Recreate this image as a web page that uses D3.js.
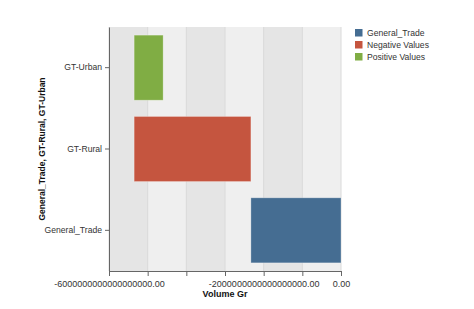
<!DOCTYPE html>
<html>
<head>
<meta charset="utf-8">
<script src="https://cdn.jsdelivr.net/npm/d3@7"></script>
<style>
  body { margin: 0; background: #fff; }
  text { font-family: "Liberation Sans", Arial, sans-serif; }
</style>
</head>
<body>
<div id="chart"></div>
<script>
// Waterfall data (top to bottom)
const categories = ["GT-Urban", "GT-Rural", "General_Trade"];
const seriesNames = ["General_Trade", "Negative Values", "Positive Values"];
const seriesColors = ["#456d92", "#c5553f", "#80ad44"];
// each step: start and end on the value axis
const stepStart = [-5.35e18, -2.33e18, 0];
const stepEnd = [-4.6e18, -5.35e18, -2.33e18];
const stepSeries = ["Positive Values", "Negative Values", "General_Trade"];
const xTickValues = [-6e18, -5e18, -4e18, -3e18, -2e18, -1e18, 0];
const xTickLabels = [-6e18, -2e18, 0];

const margin = { top: 27, right: 133, bottom: 38, left: 109 };
const width = 474 - margin.left - margin.right;
const height = 309 - margin.top - margin.bottom;

const svg = d3.select("#chart")
  .append("svg")
    .attr("width", 474)
    .attr("height", 309)
  .append("g")
    .attr("transform", `translate(${margin.left},${margin.top})`);

const x = d3.scaleLinear().domain([-6e18, 0]).range([0, width]);
const y = d3.scaleBand().domain(categories).range([0, height])
  .paddingInner(0.2).paddingOuter(0.1);
const color = d3.scaleOrdinal().domain(seriesNames).range(seriesColors);

// background bands between ticks
svg.append("rect")
  .attr("width", width)
  .attr("height", height)
  .style("fill", "#efefef");

svg.selectAll(".band")
  .data(d3.pairs(xTickValues).filter((d, i) => i % 2 === 0))
  .enter().append("rect")
    .attr("class", "band")
    .attr("x", d => x(d[0]))
    .attr("width", d => x(d[1]) - x(d[0]))
    .attr("height", height)
    .style("fill", "#e5e5e5");

svg.selectAll(".grid")
  .data(xTickValues)
  .enter().append("line")
    .attr("class", "grid")
    .attr("x1", d => x(d)).attr("x2", d => x(d))
    .attr("y1", 0).attr("y2", height)
    .style("stroke", "#dadada");

// bars
const bars = categories.map((c, i) => ({ cat: c, start: stepStart[i], end: stepEnd[i], series: stepSeries[i] }));
svg.selectAll(".bar")
  .data(bars)
  .enter().append("rect")
    .attr("class", "bar")
    .attr("x", d => x(Math.min(d.start, d.end)))
    .attr("y", d => y(d.cat))
    .attr("width", d => Math.abs(x(d.end) - x(d.start)))
    .attr("height", y.bandwidth())
    .style("fill", d => color(d.series))
    .style("stroke", "#ffffff")
    .style("stroke-opacity", 0.35)
    .style("stroke-width", 0.8);

// x axis
const xAxis = svg.append("g")
  .attr("transform", `translate(0,${height})`)
  .call(d3.axisBottom(x)
    .tickValues(xTickValues)
    .tickSize(5)
    .tickSizeOuter(0)
    .tickFormat(d => xTickLabels.includes(d) ? d.toFixed(2) : ""));

// y axis
const yAxis = svg.append("g")
  .call(d3.axisLeft(y).tickSize(4).tickSizeOuter(0));

[xAxis, yAxis].forEach(a => {
  a.select(".domain").style("stroke", "#666");
  a.selectAll(".tick line").style("stroke", "#666");
  a.selectAll("text")
    .style("font-size", "8.6px")
    .style("fill", "#333")
    .style("font-family", "'Liberation Sans', Arial, sans-serif");
});
xAxis.selectAll("text").style("font-size", "9px").attr("dy", "0.9em");

// axis titles
svg.append("text")
  .attr("x", width / 2)
  .attr("y", height + 26)
  .attr("text-anchor", "middle")
  .style("font-size", "9px")
  .style("font-weight", "bold")
  .style("fill", "#111")
  .text("Volume Gr");

svg.append("text")
  .attr("transform", `translate(${-64},${height / 2}) rotate(-90)`)
  .attr("text-anchor", "middle")
  .style("font-size", "8.5px")
  .style("font-weight", "bold")
  .style("fill", "#111")
  .text("General_Trade, GT-Rural, GT-Urban");

// legend
const legend = svg.append("g")
  .attr("transform", `translate(${width + 14}, 2)`);

const items = legend.selectAll("g")
  .data(seriesNames)
  .enter().append("g")
    .attr("transform", (d, i) => `translate(0, ${i * 12})`);

items.append("rect")
  .attr("width", 7.5)
  .attr("height", 7.5)
  .style("fill", d => color(d));

items.append("text")
  .attr("x", 12)
  .attr("y", 7)
  .style("font-size", "8.6px")
  .style("fill", "#333")
  .text(d => d);
</script>
</body>
</html>
